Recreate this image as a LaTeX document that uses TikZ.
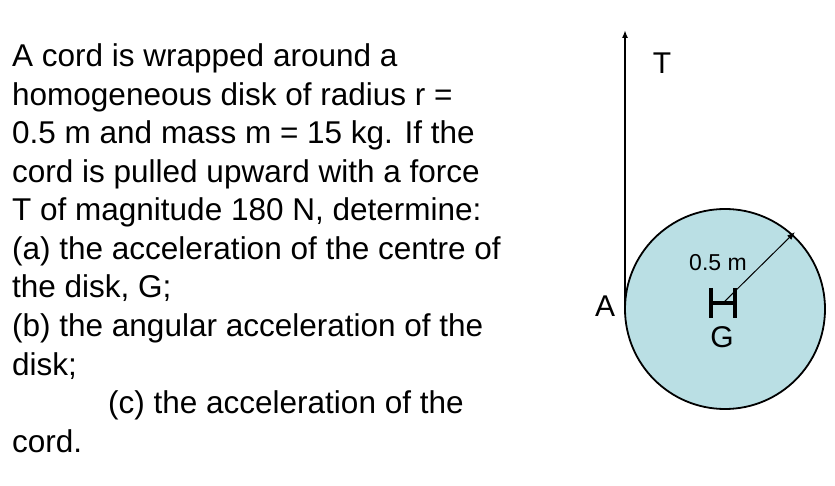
\documentclass[tikz,border=0pt]{standalone}
\usepackage{fontspec}
\setmainfont{Liberation Sans}
\usetikzlibrary{arrows.meta}
\begin{document}
\begin{tikzpicture}[x=1pt,y=-1pt,
  txt/.style={anchor=base west,inner sep=0pt,font=\fontsize{31.5}{36}\selectfont},
  lbl/.style={inner sep=0pt,font=\fontsize{30}{36}\selectfont}]
\useasboundingbox (0,0) rectangle (835,486);
\fill[white] (0,0) rectangle (835,486);
\foreach \t [count=\i] in {A cord is wrapped around a,homogeneous disk of radius r =,0.5 m and mass m = 15 kg. If the,cord is pulled upward with a force,T of magnitude 180 N{,} determine:,(a) the acceleration of the centre of,the disk{,} G;,(b) the angular acceleration of the,disk;}
  \node[txt] (l\i) at (12,{67+(\i-1)*38.5}) {\t};
\node[txt] (l10) at (108,413.5) {(c) the acceleration of the};
\node[txt] (l11) at (12,452) {cord.};
\node[draw=black,line width=1.8pt,fill={rgb,255:red,186;green,223;blue,228},circle,minimum size=200pt,inner sep=0pt] (disk) at (725,309) {};
\coordinate (A) at (625,309);
\coordinate (top) at (625,30);
\draw[line width=2pt,-{Latex[length=8pt,width=6pt]}] (A) -- (top);
\node[lbl] (T) at (662,63) {T};
\node[lbl] (Alab) at (605,306) {A};
\node[inner sep=0pt,font=\fontsize{23}{26}\selectfont] (r) at (718,263) {0.5 m};
\node[lbl] (G) at (722,337) {G};
\coordinate (C) at (723,303);
\draw[line width=3.5pt] (711,288) -- (711,318) (735,288) -- (735,318) (711,303) -- (735,303);
\coordinate (rim) at (795,232);
\draw[line width=1pt,-{Latex[length=8pt,width=6pt]}] (C) -- (rim);
\end{tikzpicture}
\end{document}
